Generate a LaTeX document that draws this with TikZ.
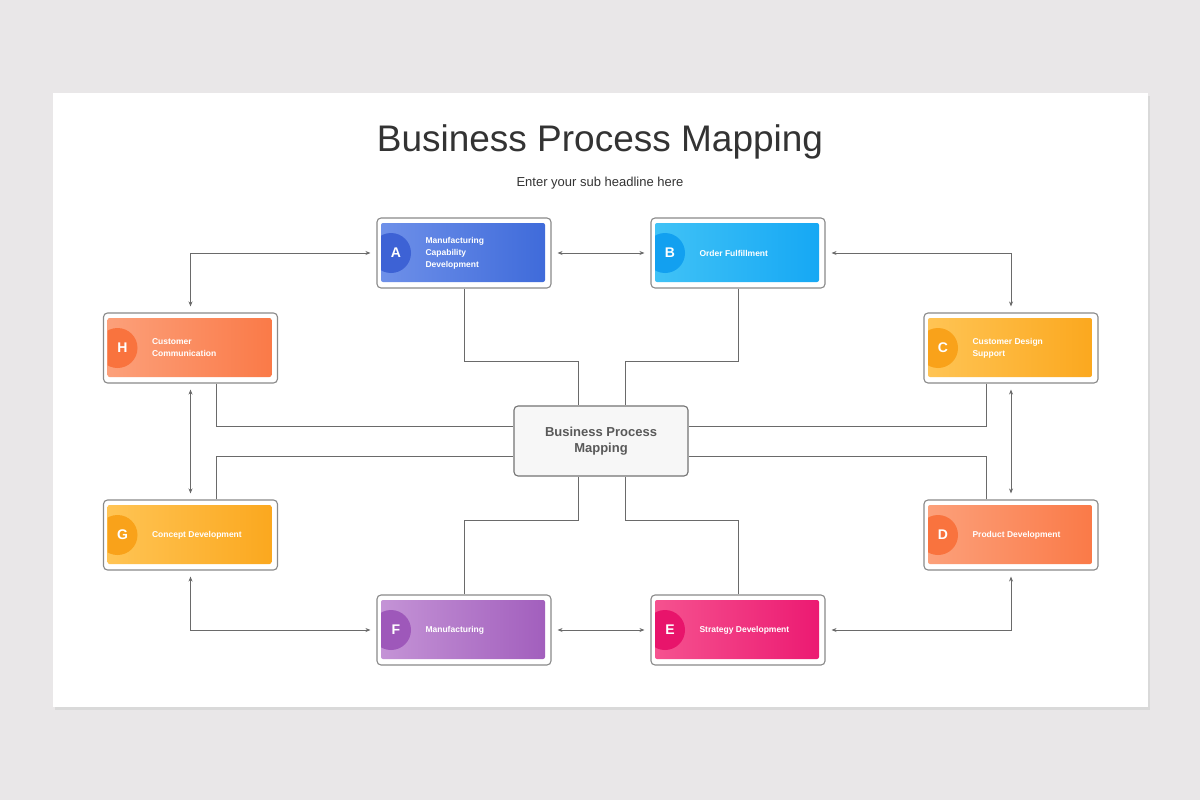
\documentclass[tikz,border=0pt]{standalone}
\usepackage{fontspec}
\setmainfont{Liberation Sans}
\usetikzlibrary{arrows.meta}
\definecolor{bgc}{HTML}{E9E7E8}
\definecolor{frm}{HTML}{8A8A8A}
\definecolor{lnc}{HTML}{6A6A6A}
\definecolor{a1}{HTML}{6E90E9}\definecolor{a2}{HTML}{3F6BDA}\definecolor{a3}{HTML}{3D62D5}
\definecolor{b1}{HTML}{40C2F6}\definecolor{b2}{HTML}{16A8F4}\definecolor{b3}{HTML}{12A0F0}
\definecolor{o1}{HTML}{FCA07A}\definecolor{o2}{HTML}{FA7A48}\definecolor{o3}{HTML}{F9733E}
\definecolor{y1}{HTML}{FFC454}\definecolor{y2}{HTML}{FBA81F}\definecolor{y3}{HTML}{F9A21A}
\definecolor{p1}{HTML}{C493D6}\definecolor{p2}{HTML}{A25FBD}\definecolor{p3}{HTML}{9E58BA}
\definecolor{r1}{HTML}{F5528F}\definecolor{r2}{HTML}{EC1A72}\definecolor{r3}{HTML}{E8146B}
\newcommand\pbox[8]{%
  \node[frame] (#1) at (#2,#3) {};
  \begin{scope}
    \clip[rounded corners=2pt] (#2-83,#3-30) rectangle (#2+81,#3+29);
    \shade[left color=#6,right color=#7] (#2-83,#3-30) rectangle (#2+81,#3+29);
    \fill[#8] (#2-73,#3) circle (20);
  \end{scope}
  \node[lett] (#1l) at (#2-68,#3) {#4};
  \node[btxt] (#1t) at (#2-42,#3) {#5};
}
\begin{document}
\begin{tikzpicture}[x=1pt,y=-1pt,
  frame/.style={draw=frm,line width=1.1pt,fill=white,rounded corners=4pt,minimum width=174pt,minimum height=70pt,inner sep=0pt},
  lett/.style={text=white,font=\bfseries\fontsize{14}{16}\selectfont},
  btxt/.style={anchor=west,text=white,align=left,font=\bfseries\fontsize{8.5}{12}\selectfont},
  ln/.style={draw=lnc,line width=0.9pt},
  arr/.style={draw=lnc,line width=0.9pt,{Stealth[length=5pt,width=4pt]}-{Stealth[length=5pt,width=4pt]},shorten <=6pt,shorten >=6pt}]
\fill[bgc] (0,0) rectangle (1200,800);
\fill[black!15] (55,96) rectangle (1150,710);
\fill[white] (53,93) rectangle (1148,707);
\useasboundingbox (0,0) rectangle (1200,800);
\node[font=\fontsize{37}{40}\selectfont,text=black!80] (title) at (600,142) {Business Process Mapping};
\node[font=\fontsize{13}{15}\selectfont,text=black!80] (sub) at (600,183) {Enter your sub headline here};
\pbox{A}{464}{253}{A}{Manufacturing\\Capability\\Development}{a1}{a2}{a3}
\pbox{B}{738}{253}{B}{Order Fulfillment}{b1}{b2}{b3}
\pbox{H}{190.5}{348}{H}{Customer\\Communication}{o1}{o2}{o3}
\pbox{C}{1011}{348}{C}{Customer Design\\Support}{y1}{y2}{y3}
\pbox{G}{190.5}{535}{G}{Concept Development}{y1}{y2}{y3}
\pbox{D}{1011}{535}{D}{Product Development}{o1}{o2}{o3}
\pbox{F}{464}{630}{F}{Manufacturing}{p1}{p2}{p3}
\pbox{E}{738}{630}{E}{Strategy Development}{r1}{r2}{r3}
\node[frame,draw=black!55,fill=black!3,font=\bfseries\fontsize{13}{16}\selectfont,text=black!65,align=center] (M) at (601,441) {Business Process\\Mapping};
\draw[ln] (A.south) -- (464,361) -| ([xshift=-23pt]M.north);
\draw[ln] (B.south) -- (738,361) -| ([xshift=24pt]M.north);
\draw[ln] ([xshift=25.5pt]H.south) |- ([yshift=15pt]M.west);
\draw[ln] ([xshift=-25pt]C.south) |- ([yshift=15pt]M.east);
\draw[ln] ([xshift=25.5pt]G.north) |- ([yshift=-15pt]M.west);
\draw[ln] ([xshift=-25pt]D.north) |- ([yshift=-15pt]M.east);
\draw[ln] (F.north) -- (464,520) -| ([xshift=-23pt]M.south);
\draw[ln] (E.north) -- (738,520) -| ([xshift=24pt]M.south);
\draw[arr] (A.west) -| (H.north);
\draw[arr] (A.east) -- (B.west);
\draw[arr] (B.east) -| (C.north);
\draw[arr] (H.south) -- (G.north);
\draw[arr] (C.south) -- (D.north);
\draw[arr] (G.south) |- (F.west);
\draw[arr] (F.east) -- (E.west);
\draw[arr] (E.east) -| (D.south);
\end{tikzpicture}
\end{document}
